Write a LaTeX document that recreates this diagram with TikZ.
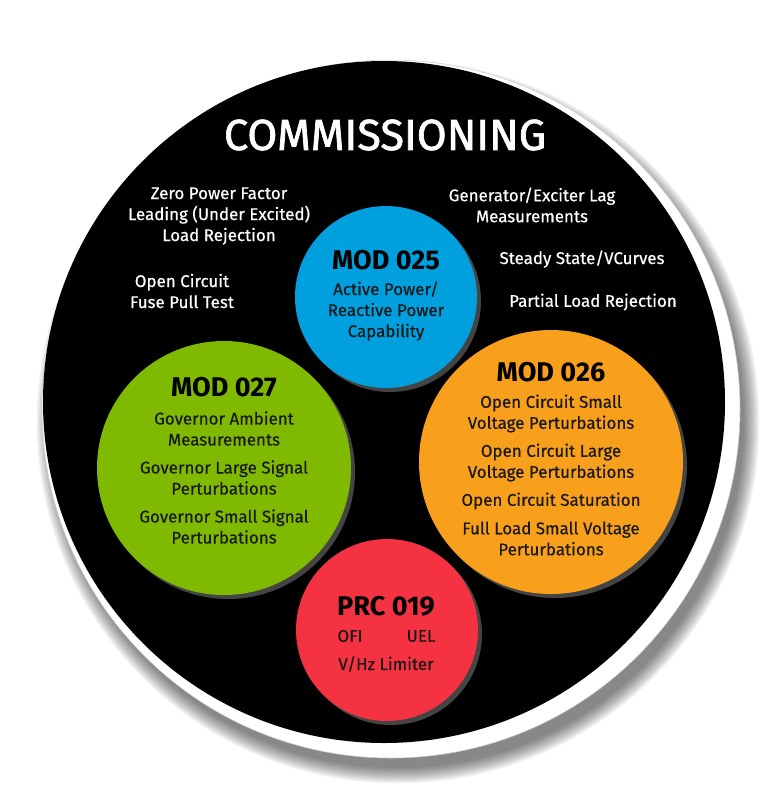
\documentclass[tikz,border=0pt]{standalone}
\usepackage{fontspec}
\setmainfont{Fira Sans}[UprightFeatures={FakeBold=0.5}]
\newfontfamily\titlefont{Fira Sans}[UprightFeatures={FakeBold=1.6}]
\usepackage{tikz}
\usetikzlibrary{positioning}
\definecolor{modblue}{RGB}{0,160,223}
\definecolor{modgreen}{RGB}{128,186,0}
\definecolor{modorange}{RGB}{248,160,28}
\definecolor{prcred}{RGB}{244,50,66}
\definecolor{rimgray}{RGB}{68,68,68}

\begin{document}
\begin{tikzpicture}[
    x=0.75pt, y=-0.75pt,
    titel/.style={text=white, font=\titlefont\fontsize{32.5}{36}\selectfont},
    outtxt/.style={text=white, align=center, font=\fontsize{12.7}{15.75}\selectfont},
    head/.style={text=black, font=\fontsize{20.3}{22}\selectfont\bfseries},
    intxt/.style={text=black!90, align=center, font=\fontsize{12.7}{15.75}\selectfont},
    rim/.style={fill=rimgray},
]
\useasboundingbox (0,0) rectangle (768,808);
% ---------- base disc ----------
\foreach \i in {0,...,11}
  \fill[black, opacity=0.05] (398,422) circle (346+\i*1.4);
\fill[white] (391,409) circle (349);
\draw[gray!40, line width=0.4pt] (391,409) circle (349);
\fill[black] (384,402) circle (341);
\node[titel] (title) at (385,135) {COMMISSIONING};
% ---------- loose tests ----------
\node[outtxt] (zpf) at (219,216) {Zero Power Factor\\Leading (Under Excited)\\Load Rejection};
\node[outtxt] (fuse) at (182,291) {Open Circuit\\Fuse Pull Test};
\node[outtxt] (lag) at (532,205) {Generator/Exciter Lag\\Measurements};
\node[outtxt] (vcurve) at (582,259) {Steady State/VCurves};
\node[outtxt] (plr) at (593,302) {Partial Load Rejection};
% ---------- MOD 025 ----------
\fill[rim] (390,301) circle (91);
\fill[modblue] (386,297) circle (91);
\node[head] (m25) at (386,260) {MOD 025};
\node[intxt] (m25a) at (386,311) {Active Power/\\Reactive Power\\Capability};
% ---------- MOD 027 ----------
\fill[rim] (228,472) circle (127);
\fill[modgreen] (224,468) circle (127);
\node[head] (m27) at (224,387) {MOD 027};
\node[intxt] (m27a) at (224,428.5) {Governor Ambient\\Measurements};
\node[intxt] (m27b) at (224,477.5) {Governor Large Signal\\Perturbations};
\node[intxt] (m27c) at (224,526.5) {Governor Small Signal\\Perturbations};
% ---------- MOD 026 ----------
\fill[rim] (555,466) circle (132);
\fill[modorange] (551,462) circle (132);
\node[head] (m26) at (551,372) {MOD 026};
\node[intxt] (m26a) at (551,413.5) {Open Circuit Small\\Voltage Perturbations};
\node[intxt] (m26b) at (551,462.5) {Open Circuit Large\\Voltage Perturbations};
\node[intxt] (m26c) at (551,501) {Open Circuit Saturation};
\node[intxt] (m26d) at (551,538.5) {Full Load Small Voltage\\Perturbations};
% ---------- PRC 019 ----------
\fill[rim] (391,634) circle (91);
\fill[prcred] (387,630) circle (91);
\node[head] (p19) at (386,606) {PRC 019};
\node[intxt] (ofi) at (350,636) {OFI};
\node[intxt] (uel) at (421,636) {UEL};
\node[intxt] (vhz) at (386,664) {V/Hz Limiter};
\end{tikzpicture}
\end{document}
